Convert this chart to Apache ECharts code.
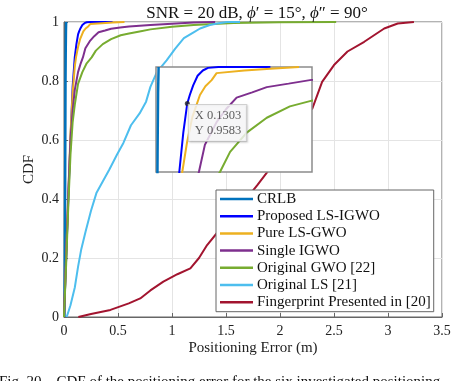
<!DOCTYPE html>
<html><head><meta charset="utf-8">
<script src="https://cdn.jsdelivr.net/npm/echarts@6/dist/echarts.min.js"></script>
<style>html,body{margin:0;padding:0;background:#fff}#c{width:474px;height:381px}</style>
</head><body><div id="c"></div>
<script>
const seriesNames = ['CRLB','Proposed LS-IGWO','Pure LS-GWO','Single IGWO','Original GWO [22]','Original LS [21]','Fingerprint Presented in [20]'];
const xTicks = [0,0.5,1,1.5,2,2.5,3,3.5];
const yTicks = [0,0.2,0.4,0.6,0.8,1];
const crlb = [[0.004,0],[0.008,0.2],[0.011,0.5],[0.014,0.8],[0.016,0.9],[0.018,0.97],[0.02,1]];
const lsigwo = [[0,0],[0.02,0.2],[0.04,0.4],[0.06,0.6],[0.08,0.78],[0.0996,0.88],[0.115,0.925],[0.1303,0.9583],[0.14,0.968],[0.153,0.979],[0.17,0.99],[0.19,0.996],[0.21,0.999],[0.25,1],[0.45,1]];
const lsgwo = [[0,0],[0.02,0.21],[0.04,0.42],[0.06,0.62],[0.08,0.76],[0.1,0.85],[0.111,0.88],[0.13,0.915],[0.15,0.943],[0.179,0.968],[0.2,0.978],[0.224,0.985],[0.243,0.993],[0.35,0.996],[0.45,0.998],[0.56,1]];
const igwo = [[0,0],[0.02,0.2],[0.04,0.42],[0.06,0.6],[0.08,0.7],[0.1,0.77],[0.13,0.83],[0.155,0.86],[0.175,0.88],[0.198,0.911],[0.243,0.937],[0.28,0.952],[0.32,0.965],[0.38,0.971],[0.436,0.977],[0.52,0.981],[0.602,0.985],[0.8,0.99],[1.0,0.994],[1.2,0.998],[1.4,1]];
const gwo = [[0,0],[0.02,0.18],[0.04,0.38],[0.06,0.55],[0.08,0.66],[0.1,0.72],[0.13,0.79],[0.17,0.83],[0.21,0.86],[0.256,0.88],[0.295,0.903],[0.359,0.925],[0.436,0.942],[0.525,0.955],[0.602,0.961],[0.7,0.968],[0.8,0.975],[1.0,0.984],[1.2,0.99],[1.57,0.997],[2.0,0.999],[2.52,1]];
const ls = [[0.025,0],[0.06,0.04],[0.1,0.1],[0.13,0.17],[0.16,0.23],[0.2,0.29],[0.25,0.36],[0.3,0.42],[0.36,0.46],[0.42,0.5],[0.49,0.55],[0.55,0.59],[0.62,0.65],[0.7,0.69],[0.76,0.73],[0.8,0.78],[0.86,0.83],[0.95,0.87],[1.03,0.91],[1.11,0.945],[1.2,0.965],[1.26,0.978],[1.35,0.99],[1.42,0.995],[1.51,1],[1.63,1]];
const fingerprint = [[0.133,0],[0.25,0.01],[0.43,0.024],[0.6,0.046],[0.706,0.063],[0.8,0.09],[0.92,0.12],[1.05,0.145],[1.17,0.165],[1.25,0.2],[1.325,0.244],[1.45,0.3],[1.54,0.345],[1.665,0.39],[1.79,0.447],[1.88,0.49],[1.975,0.56],[2.07,0.617],[2.16,0.662],[2.3,0.707],[2.39,0.797],[2.5,0.854],[2.625,0.9],[2.78,0.933],[2.965,0.978],[3.09,0.995],[3.24,1]];
const marker = [[0.1303,0.9583]];
const insetRangeX = [0.01,0.61];
const insetRangeY = [0.88,1];

const colors = ['#0072BD','#0000FF','#EDB120','#7E2F8E','#77AC30','#4DBEEE','#A2142F'];
const datasets = [crlb,lsigwo,lsgwo,igwo,gwo,ls,fingerprint];
const serif = 'Liberation Serif';

const chart = echarts.init(document.getElementById('c'));
const series = [];
datasets.forEach((d,i)=>{
  series.push({type:'line',name:seriesNames[i],data:d,xAxisIndex:0,yAxisIndex:0,showSymbol:false,
    lineStyle:{color:colors[i],width:i===0?2.5:2},itemStyle:{color:colors[i]},z:2,animation:false});
});
datasets.forEach((d,i)=>{
  series.push({type:'line',name:seriesNames[i],data:d,xAxisIndex:1,yAxisIndex:1,showSymbol:false,clip:true,
    lineStyle:{color:colors[i],width:i===0?2.5:2},itemStyle:{color:colors[i]},z:20,animation:false});
});
series.push({type:'scatter',data:marker,xAxisIndex:1,yAxisIndex:1,symbolSize:5,itemStyle:{color:'#222'},z:30,
  label:{show:true,position:[4,4],align:'left',verticalAlign:'top',
    formatter:p=>'X '+p.value[0].toFixed(4)+'\nY '+p.value[1].toFixed(4),
    fontFamily:serif,fontSize:12.5,color:'#333',lineHeight:15,backgroundColor:'#fbfbfd',borderColor:'#c8c8c8',borderWidth:1,
    padding:[3,5,3,6],shadowColor:'rgba(0,0,0,0.15)',shadowBlur:2,shadowOffsetX:1,shadowOffsetY:1},animation:false});

chart.setOption({
  animation:false,
  title:{text:'SNR = 20 dB, {i|ϕ}′ = 15°, {i|ϕ}″ = 90°',left:252,textAlign:'center',top:0,
    textStyle:{fontFamily:serif,fontSize:17,fontWeight:'normal',color:'#111',rich:{i:{fontFamily:serif,fontSize:17,fontStyle:'italic',color:'#111'}}}},
  legend:{data:seriesNames,orient:'vertical',left:216,top:190,icon:'rect',itemWidth:33,itemHeight:2.5,itemGap:2.2,
    padding:[1.5,3,2,4],backgroundColor:'#fff',borderColor:'#666',borderWidth:1,
    textStyle:{fontFamily:serif,fontSize:15,color:'#111',lineHeight:15,padding:[0,0,0,-1]},selectedMode:false},
  grid:[{left:64,right:32,top:22,bottom:64,show:true,borderColor:'#666',borderWidth:1,backgroundColor:'transparent'},
        {left:156,top:67,width:156,height:105,show:false}],
  xAxis:[{type:'value',min:0,max:3.5,interval:0.5,
      axisLine:{show:true,lineStyle:{color:'#666'}},axisTick:{inside:true,length:4,lineStyle:{color:'#666'}},
      axisLabel:{fontFamily:serif,fontSize:14,color:'#222',margin:7,formatter:v=>String(v)},
      splitLine:{show:true,lineStyle:{color:'#e4e4e4'}},
      name:'Positioning Error (m)',nameLocation:'middle',nameGap:24,nameMoveOverlap:false,nameTextStyle:{fontFamily:serif,fontSize:15,color:'#222'}},
    {type:'value',gridIndex:1,min:insetRangeX[0],max:insetRangeX[1],show:false,splitLine:{show:false}}],
  yAxis:[{type:'value',min:0,max:1,interval:0.2,
      axisLine:{show:true,lineStyle:{color:'#666'}},axisTick:{inside:true,length:4,lineStyle:{color:'#666'}},
      axisLabel:{fontFamily:serif,fontSize:14,color:'#222',margin:5,formatter:v=>String(Math.round(v*10)/10)},
      splitLine:{show:true,lineStyle:{color:'#e4e4e4'}},
      name:'CDF',nameLocation:'middle',nameGap:27,nameMoveOverlap:false,nameTextStyle:{fontFamily:serif,fontSize:15,color:'#222'}},
    {type:'value',gridIndex:1,min:insetRangeY[0],max:insetRangeY[1],show:false,splitLine:{show:false}}],
  graphic:[
    {type:'rect',shape:{x:156,y:67,width:156,height:105},style:{fill:'#fff',stroke:'#8c8c8c',lineWidth:1.5},z:10},
    {type:'text',left:-1,top:375,style:{text:'Fig. 20.   CDF of the positioning error for the six investigated positioning',fontFamily:serif,fontSize:15,fill:'#111'},z:10}
  ],
  series:series
});
</script></body></html>
